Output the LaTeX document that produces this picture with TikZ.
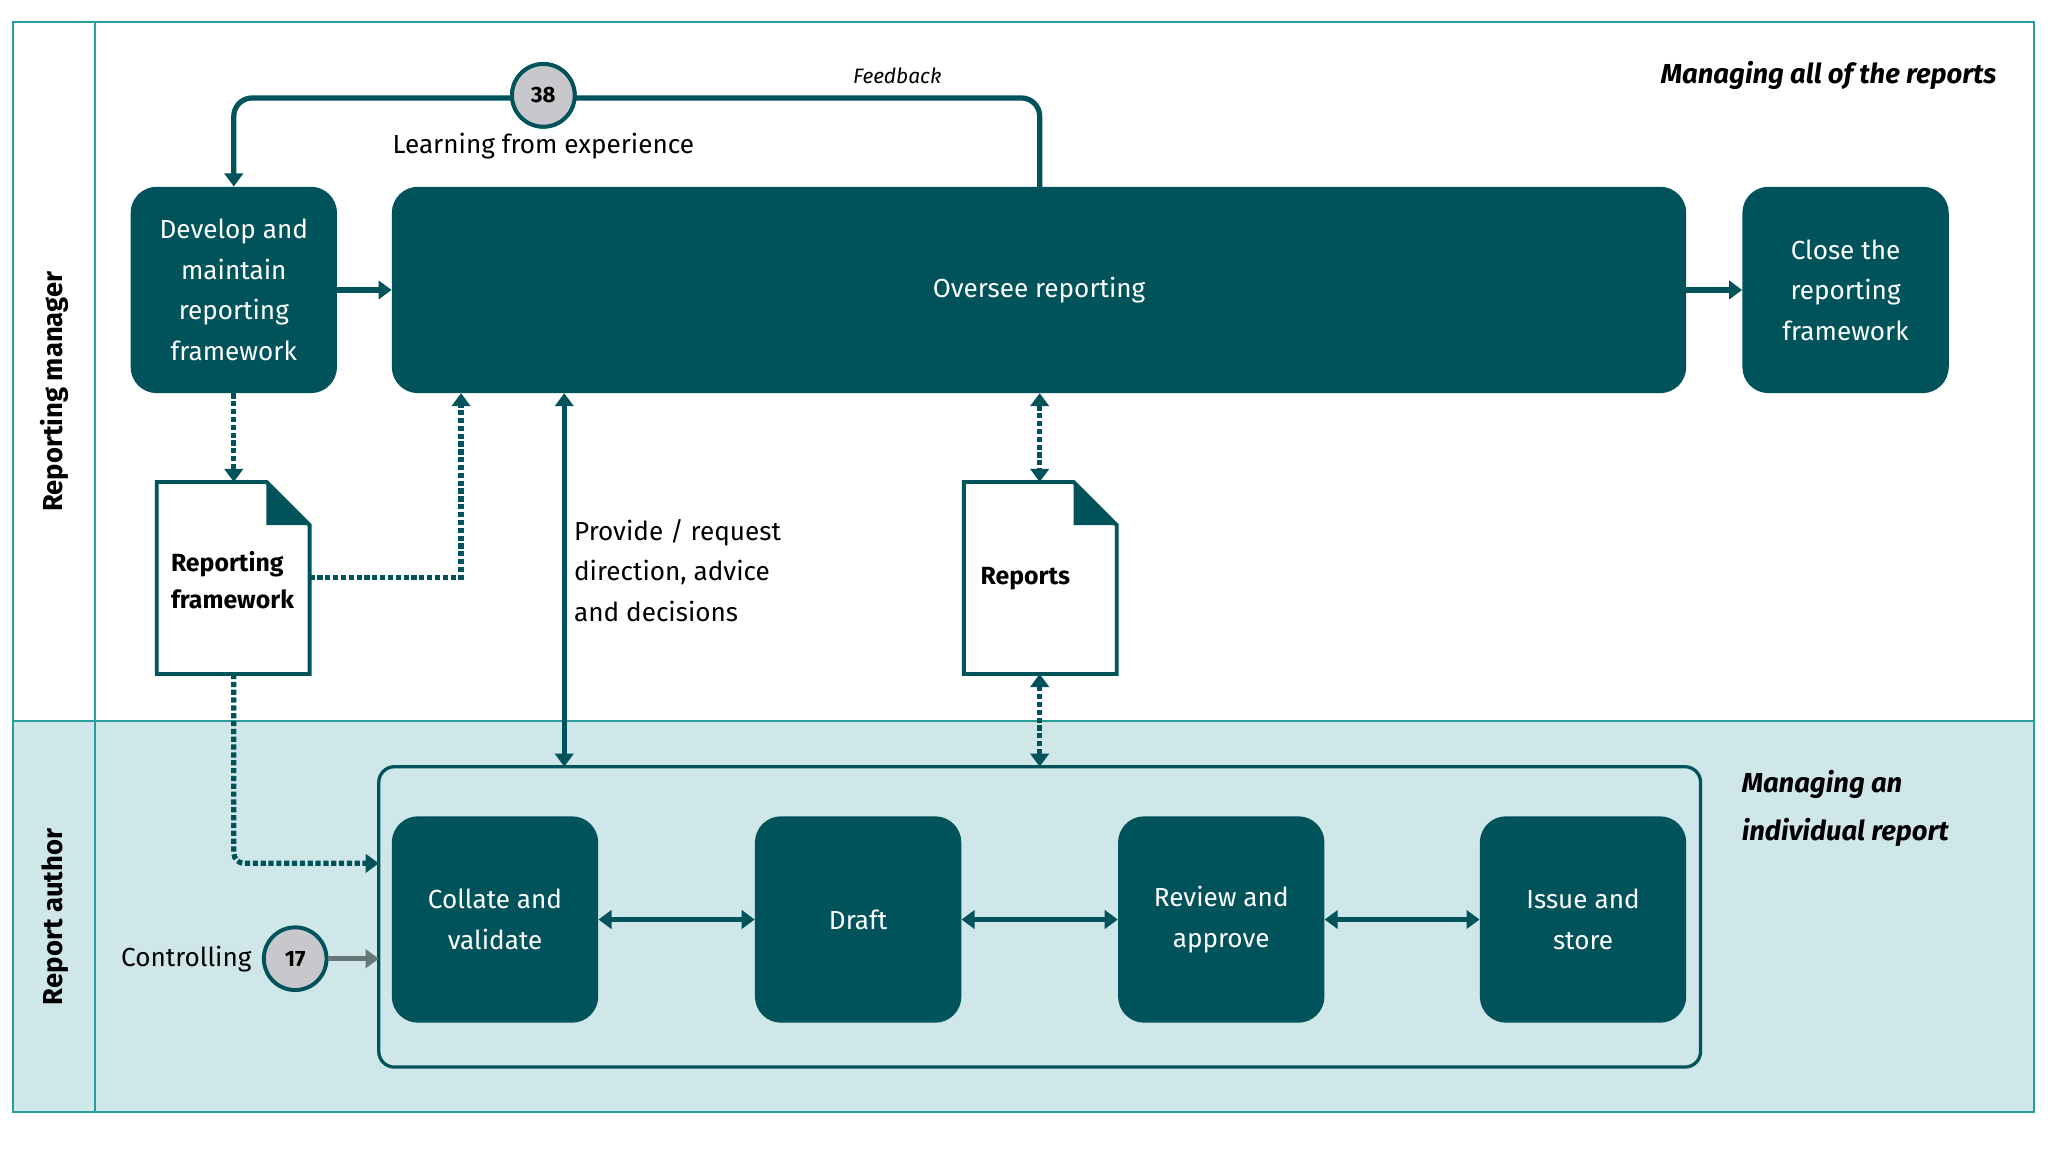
\documentclass[tikz,border=0pt]{standalone}
\usepackage{fontspec}
\setmainfont{Fira Sans}
\usetikzlibrary{arrows.meta}
\definecolor{dk}{HTML}{00535B}
\definecolor{ln}{HTML}{2A9D9A}
\definecolor{lf}{HTML}{CFE7E8}
\definecolor{gr}{HTML}{C8C8CC}
\begin{document}
\begin{tikzpicture}[x=1pt,y=-1pt,
  box/.style={fill=dk,rounded corners=20,text=white,align=center,font=\fontsize{20}{31}\selectfont},
  con/.style={draw=dk,line width=4pt,-{Triangle[length=10pt,width=14pt]}},
  dcon/.style={con,{Triangle[length=10pt,width=14pt]}-{Triangle[length=10pt,width=14pt]}},
  dot/.style={dotted,line width=4pt},
  circ/.style={circle,draw=dk,line width=3pt,fill=gr,minimum size=48pt,inner sep=0pt,font=\bfseries\fontsize{17}{20}\selectfont},
  txt/.style={font=\fontsize{20}{31}\selectfont,align=left}]
\useasboundingbox (0,0) rectangle (1568,880);
\fill[white] (0,0) rectangle (1568,880);
\fill[lf] (10,552) rectangle (1557,851);
\draw[ln,line width=1.5pt] (10,17) rectangle (1557,851) (10,552)--(1557,552) (73,17)--(73,851);
\node[rotate=90,font=\bfseries\fontsize{21}{25}\selectfont] (l1) at (42,300) {Reporting manager};
\node[rotate=90,font=\bfseries\fontsize{21}{25}\selectfont] (l2) at (42,702) {Report author};
\node[anchor=east,font=\bfseries\itshape\fontsize{21}{25}\selectfont] (t1) at (1532,58) {Managing all of the reports};
\node[anchor=west,align=left,font=\bfseries\itshape\fontsize{21}{37}\selectfont] (t2) at (1330,619) {Managing an\\individual report};
% boxes
\node[box,minimum width=158,minimum height=158] (dev) at (179,222) {Develop and\\maintain\\reporting\\framework};
\node[box,minimum width=991,minimum height=158] (ov) at (795.5,222) {Oversee reporting};
\node[box,minimum width=158,minimum height=158] (cl) at (1413,222) {Close the\\reporting\\framework};
\node[draw=dk,line width=2.5pt,rounded corners=12,minimum width=1012,minimum height=230] (cont) at (796,702) {};
\node[box,minimum width=158,minimum height=158] (c1) at (379,704) {Collate and\\validate};
\node[box,minimum width=158,minimum height=158] (c2) at (657,704) {Draft};
\node[box,minimum width=158,minimum height=158] (c3) at (935,704) {Review and\\approve};
\node[box,minimum width=158,minimum height=158] (c4) at (1212,704) {Issue and\\store};
% docs
\foreach \n/\x/\t in {rf/120/{Reporting\\framework},rp/738/Reports}{
  \draw[dk,line width=3pt,fill=white] (\x,369) -- (\x+84,369) -- (\x+117,402) -- (\x+117,516) -- (\x,516) -- cycle;
  \fill[dk] (\x+84,369) -- (\x+117,402) -- (\x+84,402) -- cycle;
}
\node[font=\bfseries\fontsize{19}{28}\selectfont,align=left] (rf) at (178,444) {Reporting\\framework};
\node[font=\bfseries\fontsize{19}{28}\selectfont] (rp) at (785,443) {Reports};
\coordinate (rft) at (179,369); \coordinate (rfb) at (179,516); \coordinate (rfr) at (237,442);
\coordinate (rpt) at (796,369); \coordinate (rpb) at (796,516);
% circles
\node[circ] (n38) at (416,73) {38};
\node[circ] (n17) at (226,734) {17};
\node[anchor=east,font=\fontsize{20}{24}\selectfont] (ctl) at (196,734) {Controlling};
\node[font=\fontsize{20}{24}\selectfont] (lfe) at (416,112) {Learning from experience};
\node[font=\itshape\fontsize{16}{20}\selectfont] (fb) at (687,58) {Feedback};
% connectors
\draw[con,rounded corners=14] (796,143) -- (796,75) -- (179,75) -- (dev.north);
\node[circ] at (416,73) {38};
\draw[con] (dev.east) -- (ov.west);
\draw[con] (ov.east) -- (cl.west);
\draw[con,dot] (dev.south) -- (rft);
\draw[con,dot] (rfr) -- (353,442) -- (353,301);
\draw[con,dot,rounded corners=8] (rfb) -- (179,661) -- (290,661);
\draw[dcon] (432,301) -- (432,587);
\draw[dcon,dot] (796,301) -- (rpt);
\draw[dcon,dot] (rpb) -- (796,587);
\draw[dcon] (c1.east) -- (c2.west);
\draw[dcon] (c2.east) -- (c3.west);
\draw[dcon] (c3.east) -- (c4.west);
\draw[con,draw=gray!80!dk] (n17.east) -- (290,734);
\node[txt,anchor=north west] (prov) at (436,394) {Provide / request\\direction, advice\\and decisions};
\end{tikzpicture}
\end{document}
